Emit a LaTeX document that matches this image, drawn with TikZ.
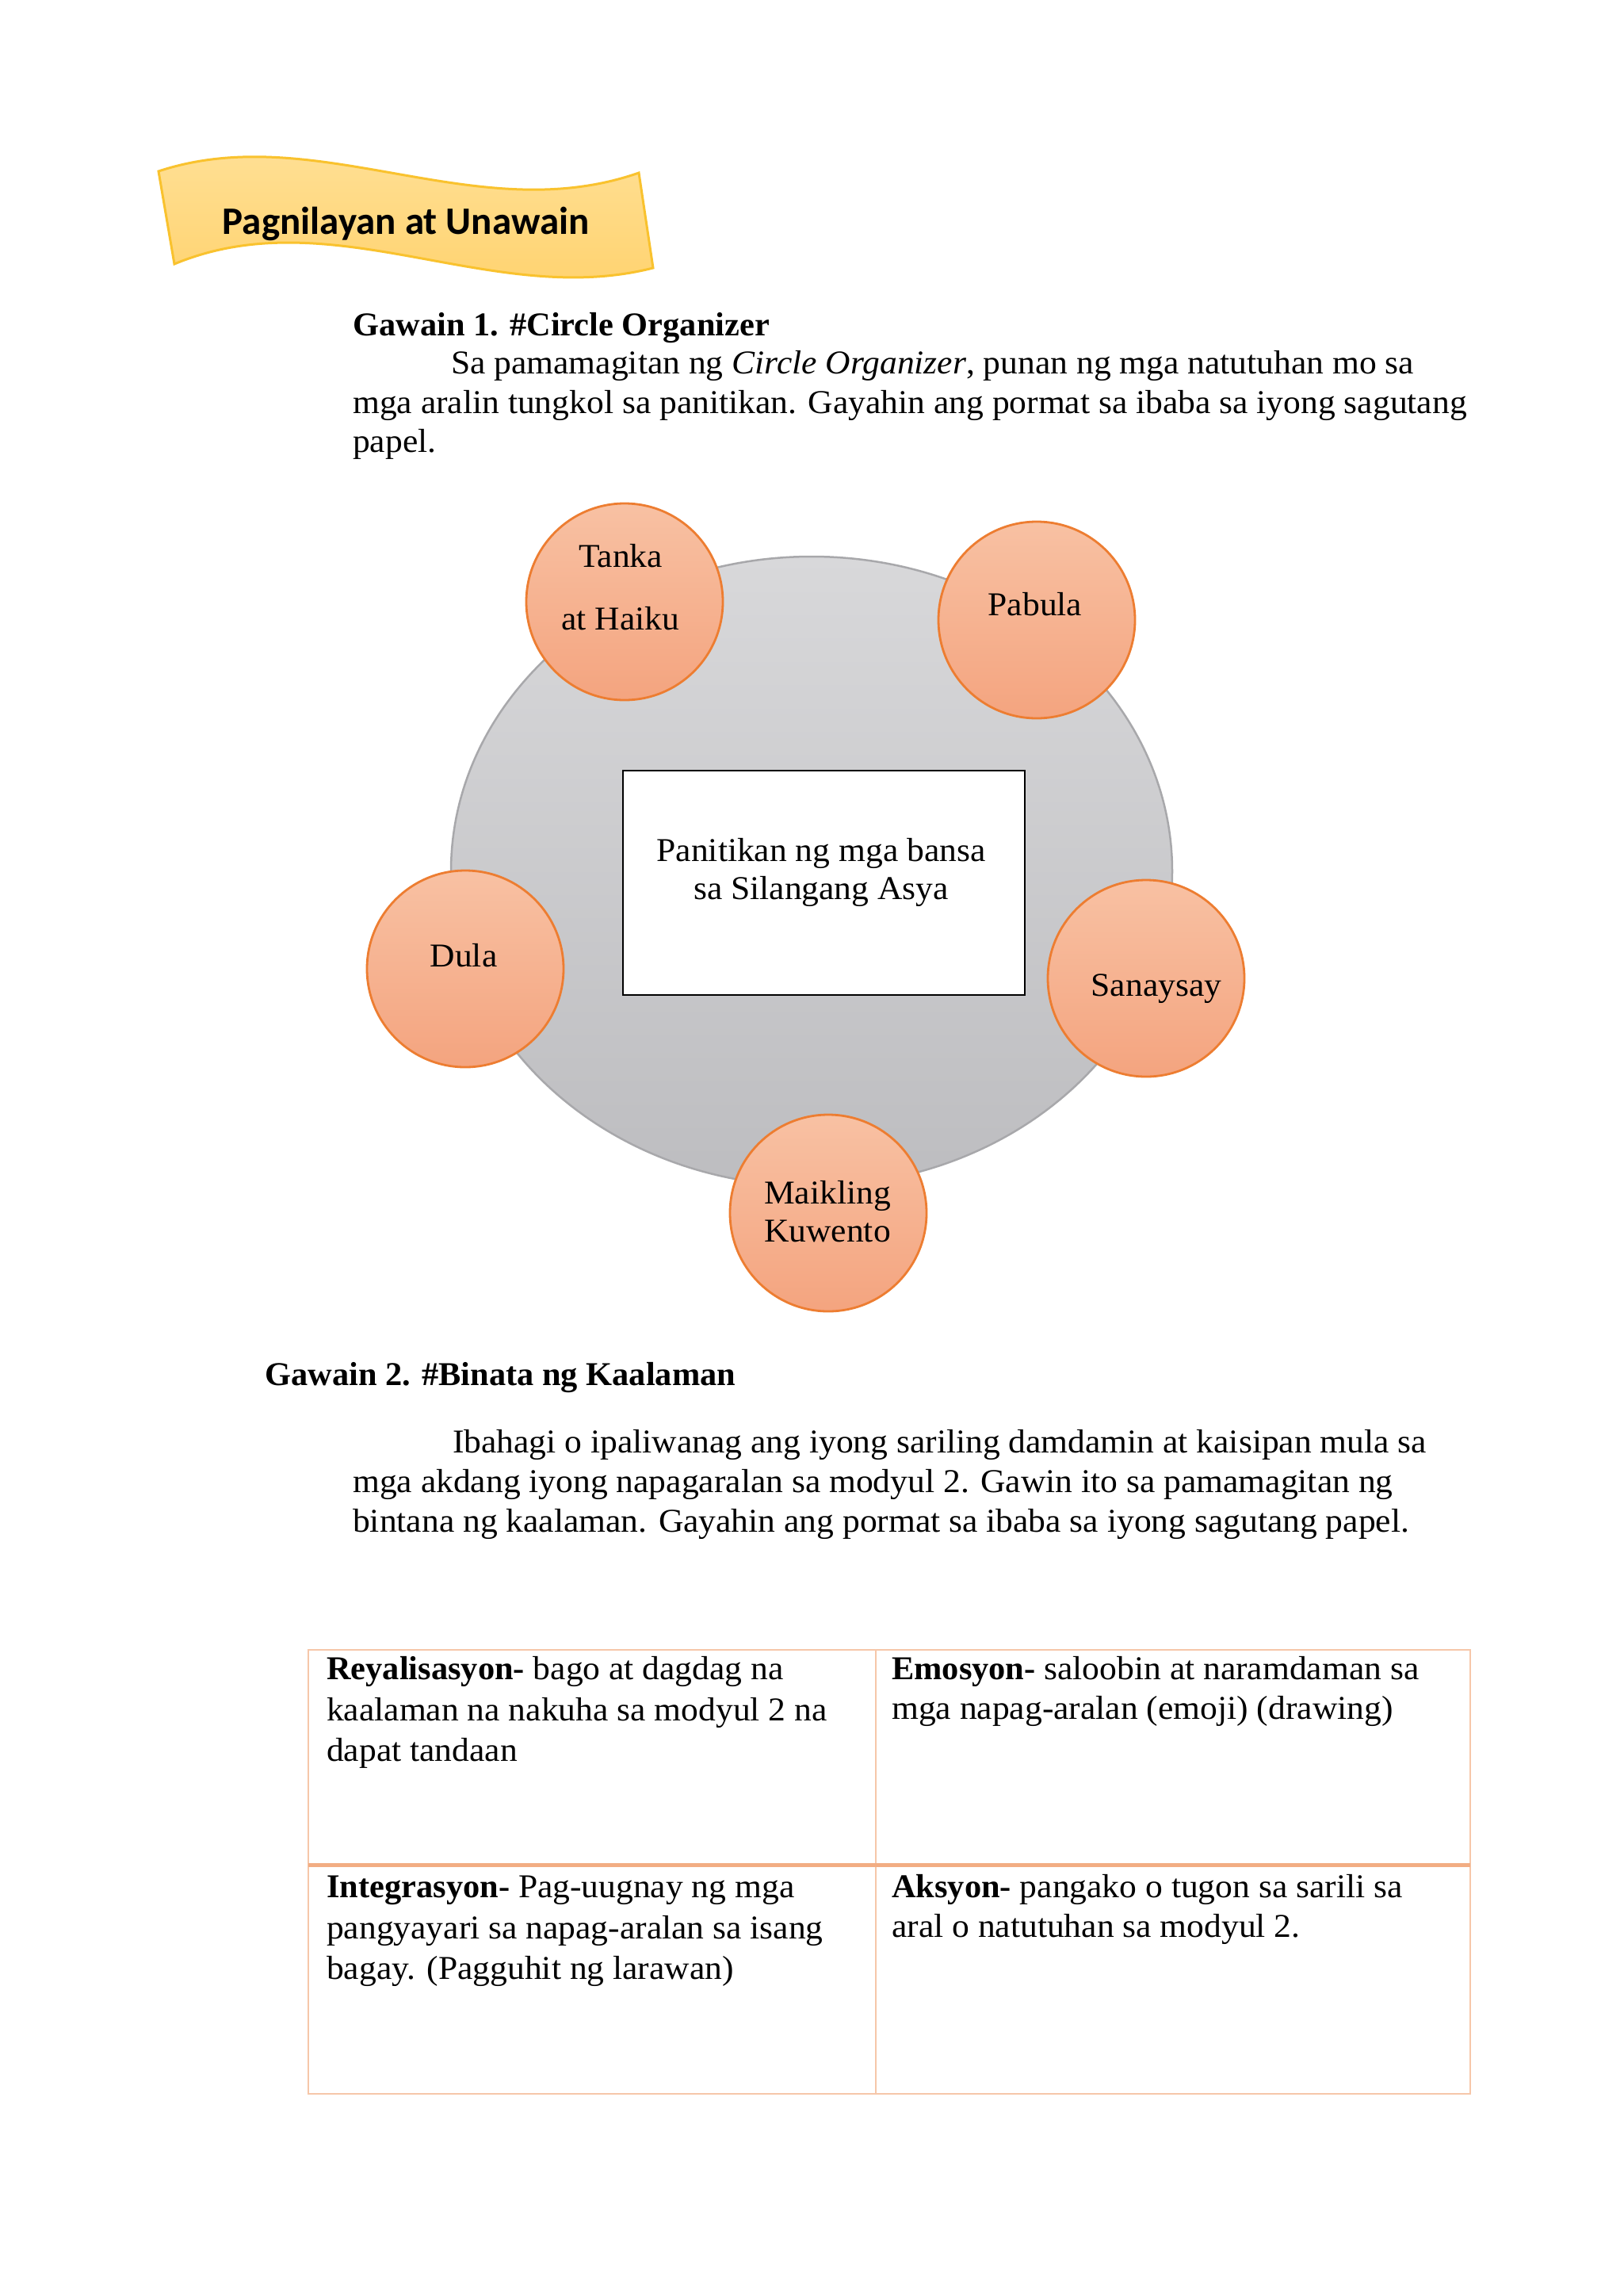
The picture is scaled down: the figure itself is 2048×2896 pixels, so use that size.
\documentclass[tikz,border=0pt]{standalone}
\usepackage{fontspec}
\usetikzlibrary{shapes.geometric}
\setmainfont{Liberation Serif}[FakeStretch=1.037,BoldFeatures={FakeStretch=1.01}]
\newfontfamily\bannerfont{Carlito}
\definecolor{bannerTop}{HTML}{FFE29C}
\definecolor{bannerBot}{HTML}{FFD16A}
\definecolor{bannerLine}{HTML}{F9C22E}
\definecolor{ellTop}{HTML}{D8D8DA}
\definecolor{ellBot}{HTML}{BDBDC0}
\definecolor{ellLine}{HTML}{A8A8AB}
\definecolor{circTop}{HTML}{F8C1A3}
\definecolor{circBot}{HTML}{F4A47F}
\definecolor{circLine}{HTML}{ED7D31}
\definecolor{tabLine}{HTML}{F6C7A9}
\definecolor{tabMid}{HTML}{F2AD83}
\newcommand{\bodysize}{\fontsize{42}{50}\selectfont}
\begin{document}
\begin{tikzpicture}[x=1pt,y=-1pt,
  txt/.style={anchor=base west,inner sep=0pt,font=\bodysize},
  ctxt/.style={anchor=base,inner sep=0pt,font=\bodysize},
  topic/.style={circle,minimum size=248pt,inner sep=0pt,draw=circLine,line width=2.8pt,top color=circTop,bottom color=circBot}
]
\useasboundingbox (0,0) rectangle (2048,2896);
\fill[white] (0,0) rectangle (2048,2896);

% banner
\draw[line width=3pt,draw=bannerLine,top color=bannerTop,bottom color=bannerBot]
  (200,216) .. controls (400,150) and (600,290) .. (806,218)
  -- (824,338) .. controls (620,390) and (420,250) .. (220,333) -- cycle;
\node[anchor=base,inner sep=0pt,font=\bannerfont\bfseries\fontsize{49}{55}\selectfont] (banner) at (512,295) {Pagnilayan at Unawain};

% Gawain 1 text
\node[txt,font=\bodysize\bfseries] (g1) at (445,423) {Gawain 1. \#Circle Organizer};
\node[txt] (p1a) at (569,471) {Sa pamamagitan ng \textit{Circle Organizer}, punan ng mga natutuhan mo sa};
\node[txt] (p1b) at (445,521) {mga aralin tungkol sa panitikan. Gayahin ang pormat sa ibaba sa iyong sagutang};
\node[txt] (p1c) at (445,570) {papel.};

% circle organizer
\node[ellipse,minimum width=910pt,minimum height=794pt,inner sep=0pt,draw=ellLine,line width=2.5pt,top color=ellTop,bottom color=ellBot] (hub) at (1024,1099) {};
\node[draw=black,line width=2.5pt,fill=white,minimum width=507pt,minimum height=283pt,inner sep=0pt] (center) at (1039.5,1113.5) {};
\node[ctxt] (ct1) at (1036,1086) {Panitikan ng mga bansa};
\node[ctxt] (ct2) at (1036,1134) {sa Silangang Asya};

\node[topic] (tanka) at (788,759) {};
\node[topic] (pabula) at (1308,782) {};
\node[topic] (dula) at (587,1222) {};
\node[topic] (sanaysay) at (1446,1234) {};
\node[topic] (maikling) at (1045,1530) {};

\node[ctxt] at (783,715) {Tanka};
\node[ctxt] at (783,794) {at Haiku};
\node[ctxt] at (1306,776) {Pabula};
\node[ctxt] at (585,1219) {Dula};
\node[ctxt] at (1459,1256) {Sanaysay};
\node[ctxt] at (1044,1518) {Maikling};
\node[ctxt] at (1044,1566) {Kuwento};

% Gawain 2 text
\node[txt,font=\bodysize\bfseries] (g2) at (334,1747) {Gawain 2. \#Binata ng Kaalaman};
\node[txt] (p2a) at (571,1832) {Ibahagi o ipaliwanag ang iyong sariling damdamin at kaisipan mula sa};
\node[txt] (p2b) at (445,1882) {mga akdang iyong napagaralan sa modyul 2. Gawin ito sa pamamagitan ng};
\node[txt] (p2c) at (445,1932) {bintana ng kaalaman. Gayahin ang pormat sa ibaba sa iyong sagutang papel.};

% table
\draw[tabLine,line width=2.5pt] (389,2081) rectangle (1855,2641);
\draw[tabLine,line width=2.5pt] (1105,2081) -- (1105,2641);
\draw[tabMid,line width=5pt] (389,2352) -- (1855,2352);

\node[txt] at (412,2118) {\textbf{Reyalisasyon-} bago at dagdag na};
\node[txt] at (412,2170) {kaalaman na nakuha sa modyul 2 na};
\node[txt] at (412,2221) {dapat tandaan};
\node[txt] at (1125,2118) {\textbf{Emosyon-} saloobin at naramdaman sa};
\node[txt] at (1125,2168) {mga napag-aralan (emoji) (drawing)};
\node[txt] at (412,2393) {\textbf{Integrasyon-} Pag-uugnay ng mga};
\node[txt] at (412,2445) {pangyayari sa napag-aralan sa isang};
\node[txt] at (412,2496) {bagay. (Pagguhit ng larawan)};
\node[txt] at (1125,2393) {\textbf{Aksyon-} pangako o tugon sa sarili sa};
\node[txt] at (1125,2443) {aral o natutuhan sa modyul 2.};
\end{tikzpicture}
\end{document}
